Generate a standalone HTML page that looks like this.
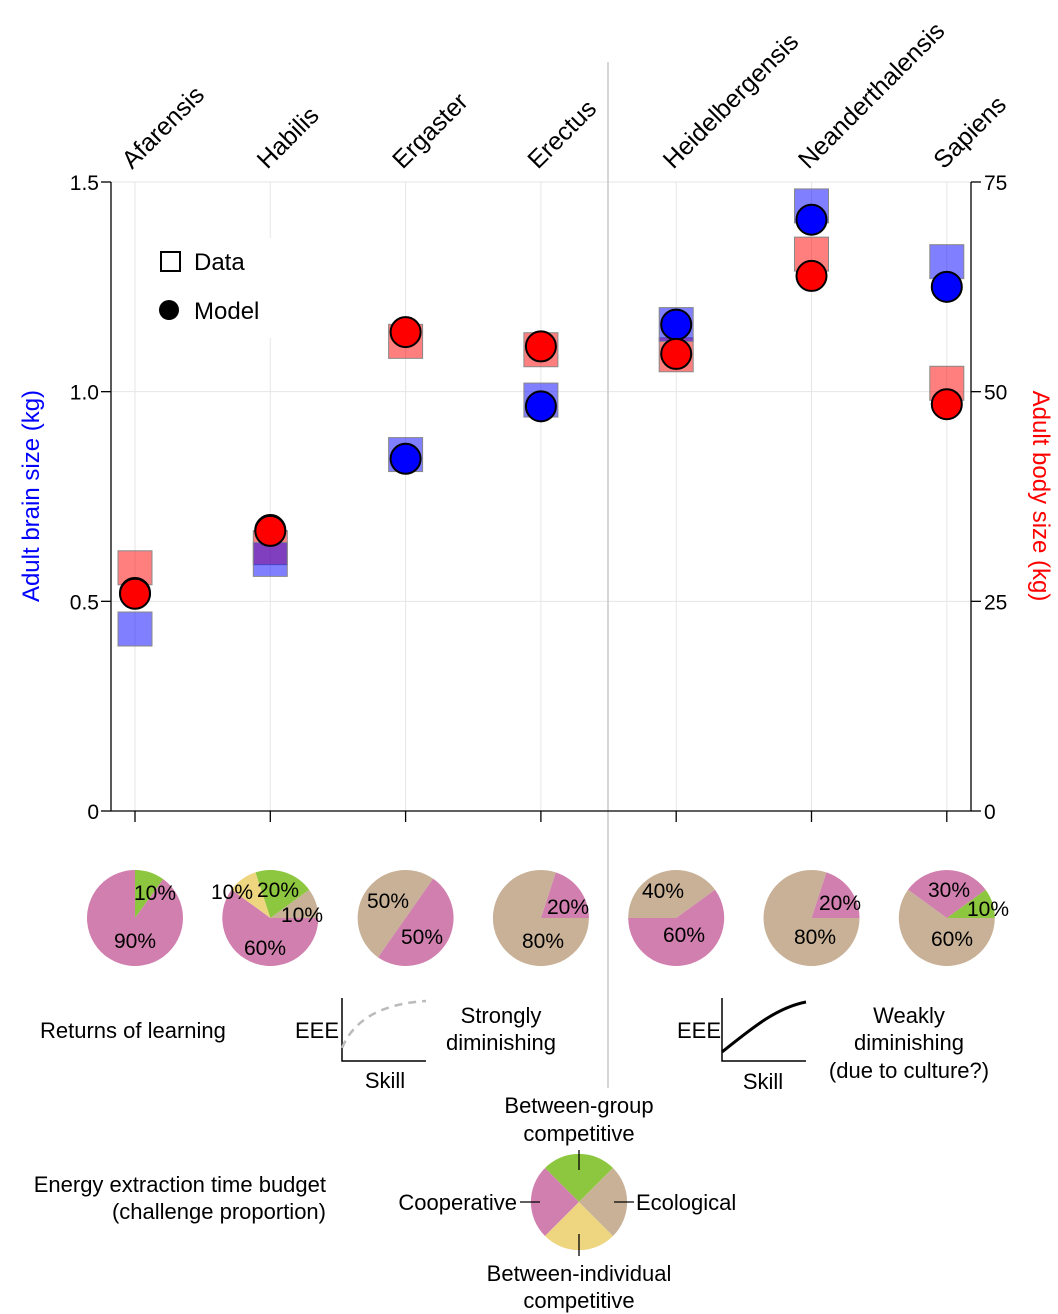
<!DOCTYPE html>
<html><head><meta charset="utf-8"><style>
body{margin:0;background:#fff}
svg{display:block;font-family:"Liberation Sans",sans-serif}
</style></head><body>
<svg id="c" width="1058" height="1314" viewBox="0 0 1058 1314" xmlns="http://www.w3.org/2000/svg">
<g id="grid"></g>
<line x1="608" y1="62" x2="608" y2="1088" stroke="#c8c8c8" stroke-width="1.5"/>
<g id="axes" stroke="#000" stroke-width="1.3"></g>
<g id="marks"></g>
<g id="labels" font-size="22"></g>
<rect x="150" y="238" width="122" height="100" fill="#fff"/>
<g font-size="24">
<rect x="161" y="252" width="19" height="19" fill="none" stroke="#000" stroke-width="2"/>
<text x="194" y="270">Data</text>
<circle cx="169" cy="310" r="10" fill="#000"/>
<text x="194" y="319">Model</text>
</g>
<text transform="translate(39,496) rotate(-90)" text-anchor="middle" font-size="24" fill="#0000ff">Adult brain size (kg)</text>
<text transform="translate(1033,496) rotate(90)" text-anchor="middle" font-size="24" fill="#ff0000">Adult body size (kg)</text>
<g id="pies"></g>
<g font-size="22">
<text x="40" y="1038">Returns of learning</text>
<text x="295" y="1038">EEE</text>
<polyline points="342,998 342,1061 426,1061" fill="none" stroke="#000" stroke-width="1.5"/>
<path d="M342,1048 Q360,1005 426,1001" fill="none" stroke="#bbb" stroke-width="2.5" stroke-dasharray="8,6"/>
<text x="385" y="1088" text-anchor="middle">Skill</text>
<text x="501" y="1023" text-anchor="middle">Strongly</text>
<text x="501" y="1050" text-anchor="middle">diminishing</text>
<text x="677" y="1038">EEE</text>
<polyline points="722,998 722,1061 806,1061" fill="none" stroke="#000" stroke-width="1.5"/>
<path d="M722,1052 C750,1030 775,1008 806,1002" fill="none" stroke="#000" stroke-width="3"/>
<text x="763" y="1089" text-anchor="middle">Skill</text>
<text x="909" y="1023" text-anchor="middle">Weakly</text>
<text x="909" y="1050" text-anchor="middle">diminishing</text>
<text x="909" y="1078" text-anchor="middle">(due to culture?)</text>
</g>
<g font-size="22">
<text x="326" y="1192" text-anchor="end">Energy extraction time budget</text>
<text x="326" y="1219" text-anchor="end">(challenge proportion)</text>
<path d="M579,1202 L613,1168 A48,48 0 0 0 545,1168 Z" fill="#8dc63f"/>
<path d="M579,1202 L545,1168 A48,48 0 0 0 545,1236 Z" fill="#d07fae"/>
<path d="M579,1202 L545,1236 A48,48 0 0 0 613,1236 Z" fill="#eed580"/>
<path d="M579,1202 L613,1236 A48,48 0 0 0 613,1168 Z" fill="#c8b197"/>
<g stroke="#000" stroke-width="1.3"><line x1="579" y1="1150" x2="579" y2="1170"/><line x1="579" y1="1234" x2="579" y2="1256"/><line x1="520" y1="1202" x2="540" y2="1202"/><line x1="614" y1="1202" x2="634" y2="1202"/></g>
<text x="579" y="1113" text-anchor="middle">Between-group</text>
<text x="579" y="1141" text-anchor="middle">competitive</text>
<text x="517" y="1210" text-anchor="end">Cooperative</text>
<text x="636" y="1210">Ecological</text>
<text x="579" y="1281" text-anchor="middle">Between-individual</text>
<text x="579" y="1308" text-anchor="middle">competitive</text>
</g>
</svg>
<script>
const categories=["Afarensis","Habilis","Ergaster","Erectus","Heidelbergensis","Neanderthalensis","Sapiens"];
const brainData=[0.434,0.60,0.85,0.98,1.16,1.443,1.31];
const brainModel=[0.52,0.67,0.84,0.965,1.16,1.41,1.25];
const bodyData=[29,31.4,56,55,54.4,66.4,51];
const bodyModel=[25.9,33.4,57.1,55.4,54.5,63.8,48.5];
const leftTicks=[0,0.5,1.0,1.5];
const leftTickLabels=["0","0.5","1.0","1.5"];
const rightTicks=[0,25,50,75];
const pieStart=[54,0,55,0,36,0,0];
const pieValues=[[10,90],[10,20,10,60],[50,50],[20,80],[40,60],[20,80],[10,30,60]];
const pieKinds=[["green","pink"],["tan","green","yellow","pink"],["tan","pink"],["pink","tan"],["tan","pink"],["pink","tan"],["green","pink","tan"]];
const pieLabelPos=[[[155,892],[135,940]],[[302,914],[278,889],[232,891],[265,947]],[[388,900],[422,936]],[[568,906],[543,940]],[[663,890],[684,934]],[[840,902],[815,936]],[[988,908],[949,889],[952,938]]];
const colors={green:"#8dc63f",pink:"#d07fae",tan:"#c8b197",yellow:"#eed580"};
const NS="http://www.w3.org/2000/svg";
const X0=111,X1=971,Y0=811,Y1=182;
const xs=i=>135+i*135.3;
const yL=v=>Y0-(v/1.5)*(Y0-Y1);
const yR=v=>Y0-(v/75)*(Y0-Y1);
function mk(tag,attrs,parent,text){const e=document.createElementNS(NS,tag);for(const k in attrs)e.setAttribute(k,attrs[k]);if(text!==undefined)e.textContent=text;document.getElementById(parent).appendChild(e);return e;}
categories.forEach((c,i)=>{
 const g=mk("line",{x1:xs(i),x2:xs(i),y1:Y1,y2:Y0,stroke:"#e6e6e6","stroke-width":1},"grid");
 
 
 const t=mk("line",{x1:xs(i),x2:xs(i),y1:Y0,y2:Y0+11},"axes");
 
 
 const l=mk("text",{transform:`translate(${xs(i)-3},${170}) rotate(-45)`,"font-size":25},"labels",c);
 
 
});
leftTicks.forEach((v,i)=>{
 if(v>0){const g=mk("line",{x1:X0,x2:X1,y1:yL(v),y2:yL(v),stroke:"#e6e6e6","stroke-width":1},"grid");
 
 }
 const t=mk("line",{x1:X0-10,x2:X0,y1:yL(v),y2:yL(v)},"axes");
 
 
 const l=mk("text",{x:99,y:yL(v)+8,"text-anchor":"end","font-size":21},"labels",leftTickLabels[i]);
 
 
});
rightTicks.forEach(v=>{
 const t=mk("line",{x1:X1,x2:X1+10,y1:yR(v),y2:yR(v)},"axes");
 
 
 const l=mk("text",{x:984,y:yR(v)+8,"font-size":21},"labels",String(v));
 
 
});
const ax=mk("polyline",{points:`${X0},${Y1} ${X0},${Y0} ${X1},${Y0} ${X1},${Y1}`,fill:"none"},"axes");


const S=34;
bodyData.forEach((v,i)=>{
 const r=mk("rect",{x:xs(i)-S/2,y:yR(v)-S/2,width:S,height:S,fill:"rgba(255,0,0,0.5)",stroke:"#888","stroke-width":1},"marks");
 
 
});
brainData.forEach((v,i)=>{
 const r=mk("rect",{x:xs(i)-S/2,y:yL(v)-S/2,width:S,height:S,fill:"rgba(0,0,255,0.5)",stroke:"#888","stroke-width":1},"marks");
 
 
});
brainModel.forEach((v,i)=>{
 const c=mk("circle",{cx:xs(i),cy:yL(v),r:15,fill:"#0000ff",stroke:"#000","stroke-width":2},"marks");
 
 
});
bodyModel.forEach((v,i)=>{
 const c=mk("circle",{cx:xs(i),cy:yR(v),r:15,fill:"#ff0000",stroke:"#000","stroke-width":2},"marks");
 
 
});
const PR=48,PY=918;
pieValues.forEach((vals,i)=>{
 const cx=xs(i);let a=pieStart[i];
 vals.forEach((v,j)=>{
  const a2=a+v*3.6;
  const p=t=>[cx+PR*Math.cos(t*Math.PI/180),PY-PR*Math.sin(t*Math.PI/180)];
  const [x1,y1]=p(a),[x2,y2]=p(a2);
  const s=mk("path",{d:`M${cx},${PY} L${x1},${y1} A${PR},${PR} 0 ${v>50?1:0} 0 ${x2},${y2} Z`,fill:colors[pieKinds[i][j]]},"pies");
  
  
  a=a2;
 });
 vals.forEach((v,j)=>{
  const [lx,ly]=pieLabelPos[i][j];
  const t=mk("text",{x:lx,y:ly+8,"text-anchor":"middle","font-size":21},"pies",v+"%");
  
  
 });
});
</script>
</body></html>
